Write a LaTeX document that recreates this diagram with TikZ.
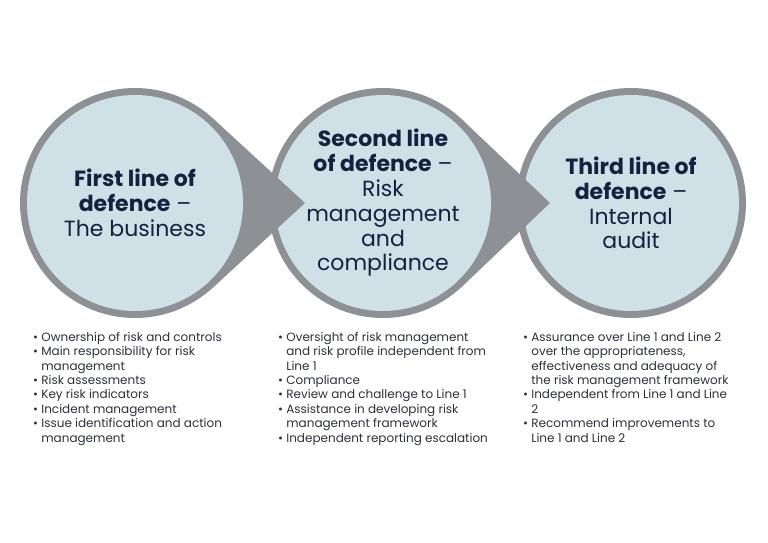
\documentclass[tikz,border=0pt]{standalone}
\usepackage{fontspec}
\setmainfont{Poppins}
\usetikzlibrary{calc}

\definecolor{ringgrey}{HTML}{8D9196}
\definecolor{discblue}{HTML}{CFE1E7}
\definecolor{navy}{HTML}{17203F}
\definecolor{listgrey}{HTML}{2C303A}

\newcommand{\bul}{\textbullet\ }
\newcommand{\ind}{\hphantom{\textbullet\ }}

\begin{document}
\begin{tikzpicture}[x=1pt,y=-1pt]
\tikzstyle{ring} = [circle, fill=ringgrey, minimum size=230pt, inner sep=0pt, outer sep=0pt]
\tikzstyle{disc} = [circle, fill=discblue, minimum size=216pt, inner sep=0pt, outer sep=0pt,
text=navy, align=center, font=\fontsize{22}{24.8}\selectfont]
\tikzstyle{pointer} = [fill=ringgrey]
\tikzstyle{list} = [anchor=north west, align=left, inner sep=0pt, text=listgrey,
font=\fontsize{12}{14.4}\selectfont]

\useasboundingbox (0,0) rectangle (768,543);

% third line
\node [ring] (ring3) at (631,203) {};
\node [disc] (disc3) at (ring3) {\textbf{Third line of}\\\textbf{defence} --\\Internal\\audit};

% second line
\node [ring] (ring2) at (383,203) {};
\coordinate (tip2) at (550,203);
\path [pointer] (tangent cs:node=ring2,point={(tip2)},solution=1) -- (tip2)
  -- (tangent cs:node=ring2,point={(tip2)},solution=2) -- (ring2.center) -- cycle;
\node [disc] (disc2) at (ring2) {\textbf{Second line}\\\textbf{of defence} --\\Risk\\management\\and\\compliance};

% first line
\node [ring] (ring1) at (135,203) {};
\coordinate (tip1) at (305,203);
\path [pointer] (tangent cs:node=ring1,point={(tip1)},solution=1) -- (tip1)
  -- (tangent cs:node=ring1,point={(tip1)},solution=2) -- (ring1.center) -- cycle;
\node [disc] (disc1) at (ring1) {\textbf{First line of}\\\textbf{defence} --\\The business};

% lists
\node [list] (list1) at (33,332) {\bul Ownership of risk and controls\\
\bul Main responsibility for risk\\\ind management\\
\bul Risk assessments\\
\bul Key risk indicators\\
\bul Incident management\\
\bul Issue identification and action\\\ind management};
\node [list] (list2) at (278,332) {\bul Oversight of risk management\\
\ind and risk profile independent from\\\ind Line 1\\
\bul Compliance\\
\bul Review and challenge to Line 1\\
\bul Assistance in developing risk\\\ind management framework\\
\bul Independent reporting escalation};
\node [list] (list3) at (523,332) {\bul Assurance over Line 1 and Line 2\\
\ind over the appropriateness,\\\ind effectiveness and adequacy of\\\ind the risk management framework\\
\bul Independent from Line 1 and Line\\\ind 2\\
\bul Recommend improvements to\\\ind Line 1 and Line 2};

\end{tikzpicture}
\end{document}
